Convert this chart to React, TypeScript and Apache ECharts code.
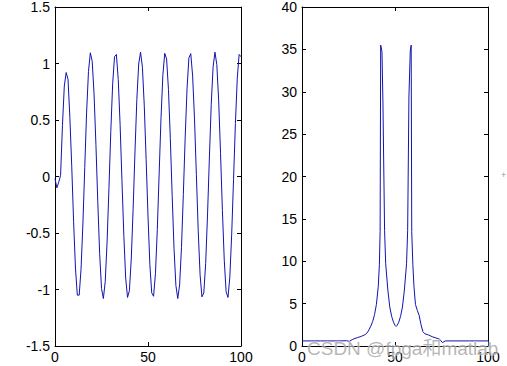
import React, { useEffect, useRef } from "react";
import * as echarts from "echarts";

// Left panel: time signal (sample index 0..100)
const signalValues: number[] = [
  -0.02, -0.1, -0.05, 0.01, 0.45, 0.8, 0.92, 0.86, 0.52, 0.09,
  -0.4, -0.81, -1.05, -1.05, -0.82, -0.42, 0.08, 0.57, 0.93, 1.095,
  1.02, 0.73, 0.285, -0.22, -0.68, -0.99, -1.08, -0.93, -0.58, -0.105,
  0.4, 0.82, 1.06, 1.08, 0.86, 0.46, -0.036, -0.52, -0.9, -1.07,
  -1.01, -0.73, -0.29, 0.217, 0.68, 0.996, 1.1, 0.967, 0.626, 0.152,
  -0.35, -0.78, -1.03, -1.06, -0.86, -0.47, 0.03, 0.52, 0.9, 1.09,
  1.04, 0.77, 0.336, -0.17, -0.64, -0.965, -1.08, -0.96, -0.63, -0.16,
  0.35, 0.78, 1.05, 1.087, 0.89, 0.51, 0.017, -0.48, -0.87, -1.065,
  -1.03, -0.77, -0.34, 0.164, 0.64, 0.97, 1.1, 0.99, 0.67, 0.205,
  -0.3, -0.74, -1.02, -1.07, -0.89, -0.51, -0.024, 0.47, 0.87, 1.08,
  1.06,
];

// Right panel: magnitude spectrum
const spectrumX: number[] = [
  0, 5, 10, 15, 20, 24, 25.5, 27, 28.5, 30, 32, 34, 35, 36, 37, 38, 39, 40, 41, 41.6,
  42.0, 42.3, 43.0, 43.5, 44.4, 45.0, 46.2, 47.2, 48.2, 49.2, 50.0, 50.6, 51.2, 52.0,
  53.0, 54.0, 55.0, 56.2, 56.8, 57.5, 58.2, 58.7, 59.0, 59.6, 60.2, 61.0, 62.0, 63.0,
  64.0, 65.0, 66.0, 68.0, 70.0, 72.0, 74.0, 75.5, 77.0, 80, 85, 90, 95, 100,
];
const spectrumY: number[] = [
  0.6, 0.6, 0.6, 0.6, 0.6, 0.62, 0.55, 0.75, 0.9, 1.0, 1.15, 1.35, 1.55, 1.9, 2.35, 2.9, 3.7, 4.9, 7.0, 9.6,
  13.5, 35.5, 34.7, 28.9, 13.6, 9.7, 6.5, 4.6, 3.5, 2.8, 2.45, 2.3, 2.45, 2.8,
  3.5, 4.6, 6.5, 9.7, 13.6, 29.5, 34.8, 35.5, 13.5, 9.6, 7.0, 4.9, 4.2, 3.6,
  2.5, 1.7, 1.45, 1.3, 1.1, 0.95, 0.8, 0.4, 0.6, 0.6, 0.6, 0.6, 0.6, 0.6,
];

const leftXTicks = { min: 0, max: 100, interval: 50 };
const leftYTicks = { min: -1.5, max: 1.5, interval: 0.5 };
const rightXTicks = { min: 0, max: 100, interval: 50 };
const rightYTicks = { min: 0, max: 40, interval: 5 };

const FONT = "'Liberation Sans Narrow', 'Arial Narrow', 'Liberation Sans', Arial, sans-serif";
const LINE_COLOR = "#1212b0";

function xAx(grid: number, t: any, position: "bottom" | "top") {
  return {
    type: "value",
    gridIndex: grid,
    position,
    min: t.min,
    max: t.max,
    interval: t.interval,
    axisLine: { show: true, onZero: false, lineStyle: { color: "#000", width: 1 } },
    axisTick: { show: true, inside: true, length: 4, lineStyle: { color: "#000" } },
    axisLabel: {
      show: position === "bottom",
      color: "#000",
      fontSize: 14,
      fontFamily: FONT,
      margin: 4,
    },
    splitLine: { show: false },
  };
}

function yAx(grid: number, t: any, position: "left" | "right") {
  return {
    type: "value",
    gridIndex: grid,
    position,
    min: t.min,
    max: t.max,
    interval: t.interval,
    axisLine: { show: true, onZero: false, lineStyle: { color: "#000", width: 1 } },
    axisTick: { show: true, inside: true, length: 4, lineStyle: { color: "#000" } },
    axisLabel: {
      show: position === "left",
      color: "#000",
      fontSize: 14,
      fontFamily: FONT,
      margin: 5,
    },
    splitLine: { show: false },
  };
}

export default function App() {
  const ref = useRef<HTMLDivElement>(null);

  useEffect(() => {
    if (!ref.current) return;
    const chart = echarts.init(ref.current, null, { renderer: "svg" });
    chart.setOption({
      animation: false,
      backgroundColor: "#fff",
      grid: [
        { left: 55, top: 5, width: 186, height: 341 },
        { left: 302, top: 5, width: 186, height: 341 },
      ],
      xAxis: [
        xAx(0, leftXTicks, "bottom"),
        xAx(0, leftXTicks, "top"),
        xAx(1, rightXTicks, "bottom"),
        xAx(1, rightXTicks, "top"),
      ],
      yAxis: [
        yAx(0, leftYTicks, "left"),
        yAx(0, leftYTicks, "right"),
        yAx(1, rightYTicks, "left"),
        yAx(1, rightYTicks, "right"),
      ],
      series: [
        {
          type: "line",
          xAxisIndex: 0,
          yAxisIndex: 0,
          data: signalValues.map((v, i) => [i, v]),
          showSymbol: false,
          lineStyle: { color: LINE_COLOR, width: 1 },
          itemStyle: { color: LINE_COLOR },
        },
        {
          type: "line",
          xAxisIndex: 2,
          yAxisIndex: 2,
          data: spectrumX.map((x, i) => [x, spectrumY[i]]),
          showSymbol: false,
          lineStyle: { color: LINE_COLOR, width: 1 },
          itemStyle: { color: LINE_COLOR },
        },
      ],
      graphic: [
        {
          type: "text",
          x: 307,
          y: 339,
          z: 100,
          style: {
            text: "CSDN @fpga和matlab",
            fontSize: 19,
            fontFamily: "'Liberation Sans', Arial, 'Noto Sans CJK SC', sans-serif",
            fill: "rgba(150,150,150,0.7)",
            stroke: "rgba(255,255,255,0.6)",
            lineWidth: 1,
          },
        },
        {
          type: "text",
          x: 501,
          y: 170,
          style: { text: "+", fontSize: 9, fill: "#999" },
        },
      ],
    });
    return () => chart.dispose();
  }, []);

  return (
    <div
      ref={ref}
      style={{ position: "fixed", left: 0, top: 0, width: 507, height: 366, background: "#fff" }}
    />
  );
}
